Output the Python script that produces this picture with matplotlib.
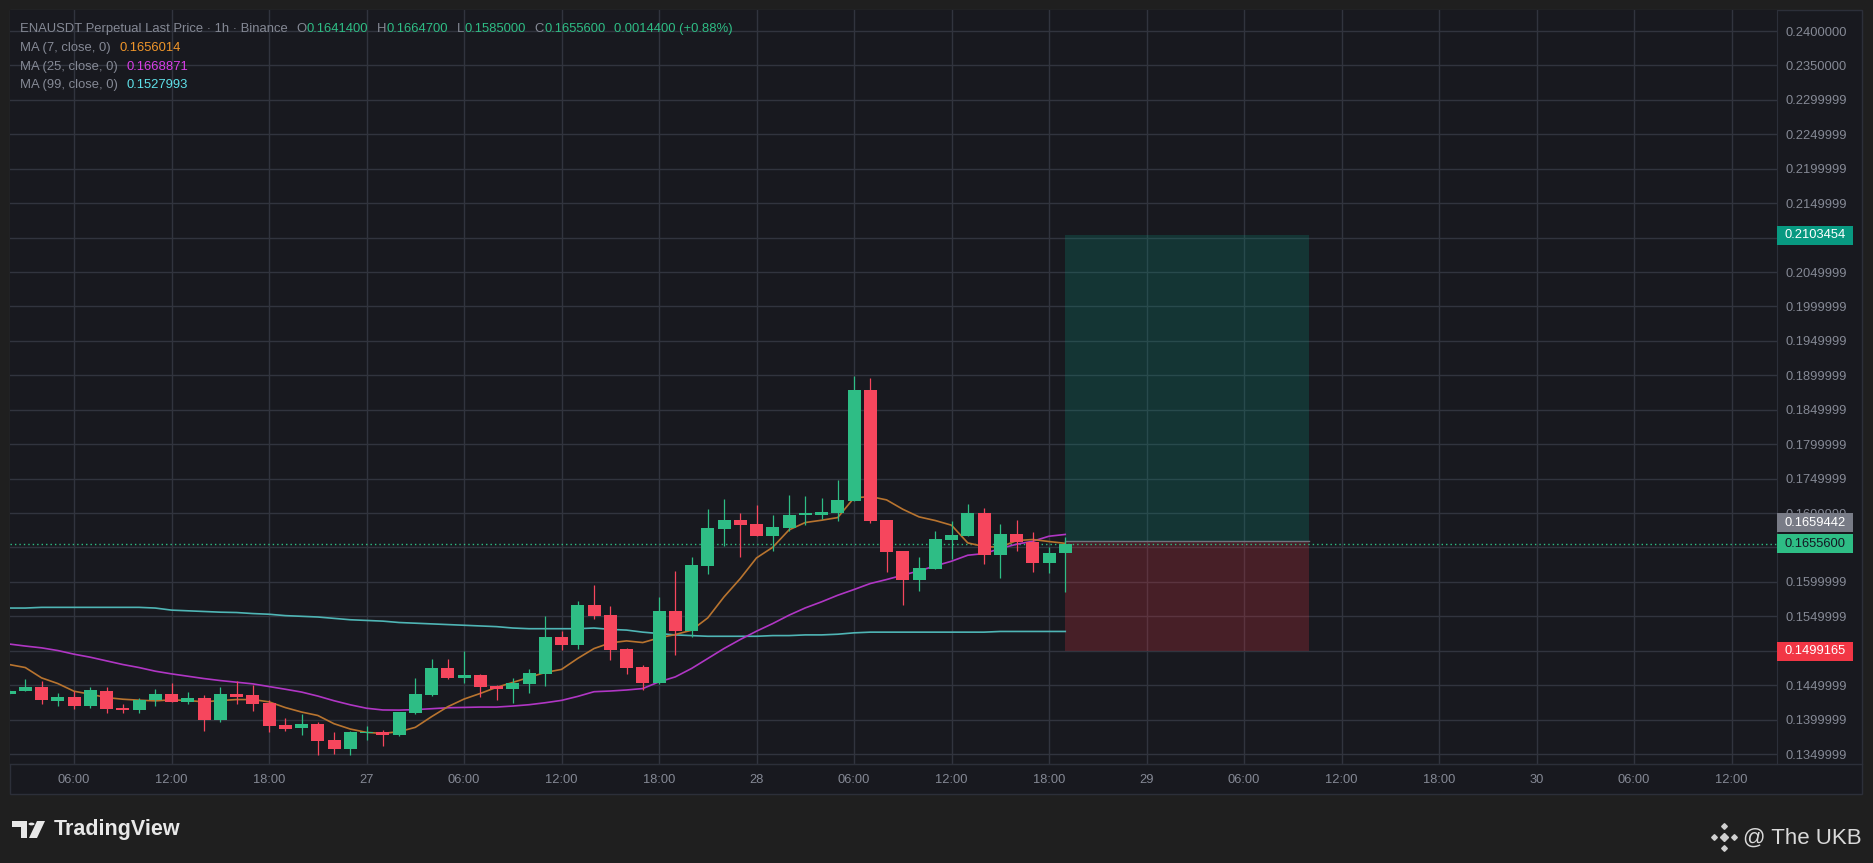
import numpy as np
import matplotlib
matplotlib.use("Agg")
import matplotlib.pyplot as plt
import matplotlib.transforms as mtransforms
from matplotlib.patches import Rectangle, Polygon, Circle
from matplotlib.lines import Line2D

# ENAUSDT perpetual, 1h candles; hour index counted from 26th 00:00
hours = np.arange(2, 68)
opens = [0.14369, 0.14412, 0.14480, 0.14277, 0.14335, 0.14195, 0.14422, 0.14175, 0.14137, 0.14282,
         0.14379, 0.14262, 0.14320, 0.14001, 0.14379, 0.14350, 0.14248, 0.13928, 0.13872, 0.13930,
         0.13698, 0.13572, 0.13800, 0.13814, 0.13776, 0.14095, 0.14351, 0.14743, 0.14598, 0.14642,
         0.14482, 0.14439, 0.14511, 0.14656, 0.15194, 0.15077, 0.15671, 0.15526, 0.15032, 0.14771,
         0.14538, 0.15584, 0.15293, 0.16237, 0.16774, 0.16905, 0.16847, 0.16673, 0.16789, 0.16978,
         0.16978, 0.17007, 0.17181, 0.18793, 0.16905, 0.16455, 0.16034, 0.16194, 0.16615, 0.16673,
         0.17007, 0.16397, 0.16702, 0.16586, 0.16281, 0.16414]
highs = [0.14440, 0.14596, 0.14567, 0.14388, 0.14412, 0.14480, 0.14480, 0.14233, 0.14320, 0.14451,
         0.14538, 0.14408, 0.14364, 0.14480, 0.14567, 0.14509, 0.14291, 0.14016, 0.14076, 0.13959,
         0.13814, 0.13829, 0.13901, 0.13843, 0.14110, 0.14598, 0.14874, 0.14874, 0.14990, 0.14656,
         0.14497, 0.14598, 0.14729, 0.15499, 0.15281, 0.15716, 0.15961, 0.15656, 0.15046, 0.14800,
         0.15787, 0.16165, 0.16368, 0.17065, 0.17210, 0.17007, 0.17123, 0.16978, 0.17268, 0.17254,
         0.17225, 0.17486, 0.18990, 0.18967, 0.16905, 0.16455, 0.16368, 0.16745, 0.16891, 0.17137,
         0.17079, 0.16847, 0.16905, 0.16731, 0.16513, 0.16647]
lows = [0.14350, 0.14410, 0.14224, 0.14195, 0.14151, 0.14175, 0.14093, 0.14093, 0.14093, 0.14195,
        0.14253, 0.14233, 0.13841, 0.13958, 0.14233, 0.14132, 0.13827, 0.13841, 0.13776, 0.13485,
        0.13500, 0.13485, 0.13703, 0.13616, 0.13761, 0.14085, 0.14337, 0.14584, 0.14526, 0.14322,
        0.14279, 0.14235, 0.14380, 0.14482, 0.15005, 0.15019, 0.15468, 0.14872, 0.14669, 0.14437,
        0.14520, 0.14935, 0.15197, 0.16121, 0.16528, 0.16368, 0.16660, 0.16455, 0.16745, 0.16832,
        0.16920, 0.16891, 0.17181, 0.16862, 0.16150, 0.15671, 0.15874, 0.16194, 0.16339, 0.16673,
        0.16266, 0.16063, 0.16455, 0.16150, 0.16136, 0.15850]
closes = [0.14422, 0.14480, 0.14282, 0.14335, 0.14195, 0.14437, 0.14161, 0.14137, 0.14291, 0.14379,
          0.14262, 0.14320, 0.14001, 0.14379, 0.14335, 0.14233, 0.13914, 0.13870, 0.13930, 0.13688,
          0.13572, 0.13814, 0.13814, 0.13776, 0.14105, 0.14366, 0.14743, 0.14598, 0.14642, 0.14468,
          0.14439, 0.14526, 0.14671, 0.15194, 0.15077, 0.15658, 0.15511, 0.15017, 0.14756, 0.14538,
          0.15584, 0.15293, 0.16252, 0.16789, 0.16905, 0.16832, 0.16673, 0.16803, 0.16978, 0.16992,
          0.17021, 0.17195, 0.18793, 0.16891, 0.16440, 0.16034, 0.16208, 0.16629, 0.16687, 0.17007,
          0.16397, 0.16702, 0.16586, 0.16281, 0.16426, 0.16556]

ma7 = [0.14800, 0.14756, 0.14606, 0.14524, 0.14412, 0.14369, 0.14320, 0.14296, 0.14282, 0.14272,
       0.14287, 0.14277, 0.14258, 0.14277, 0.14291, 0.14291, 0.14258, 0.14175, 0.14110, 0.14060,
       0.13940, 0.13863, 0.13814, 0.13800, 0.13824, 0.13887, 0.14042, 0.14187, 0.14298, 0.14380,
       0.14468, 0.14540, 0.14613, 0.14685, 0.14729, 0.14889, 0.15032, 0.15114, 0.15143, 0.15119,
       0.15187, 0.15235, 0.15298, 0.15477, 0.15782, 0.16048, 0.16348, 0.16503, 0.16755, 0.16862,
       0.16895, 0.16934, 0.17220, 0.17239, 0.17191, 0.17055, 0.16944, 0.16891, 0.16823, 0.16566,
       0.16513, 0.16503, 0.16600, 0.16615, 0.16586, 0.16560]
ma25 = [0.15098, 0.15068, 0.15042, 0.15003, 0.14950, 0.14906, 0.14853, 0.14800, 0.14756, 0.14703,
        0.14664, 0.14630, 0.14596, 0.14567, 0.14543, 0.14519, 0.14480, 0.14441, 0.14400, 0.14342,
        0.14274, 0.14215, 0.14165, 0.14140, 0.14138, 0.14145, 0.14158, 0.14172, 0.14177, 0.14182,
        0.14182, 0.14197, 0.14216, 0.14245, 0.14279, 0.14337, 0.14405, 0.14415, 0.14430, 0.14451,
        0.14548, 0.14620, 0.14742, 0.14887, 0.15032, 0.15163, 0.15284, 0.15395, 0.15516, 0.15622,
        0.15710, 0.15806, 0.15889, 0.15976, 0.16034, 0.16097, 0.16160, 0.16232, 0.16300, 0.16387,
        0.16411, 0.16484, 0.16547, 0.16590, 0.16663, 0.16689]
ma99 = [0.1562, 0.1562, 0.1563, 0.1563, 0.1563, 0.1563, 0.1563, 0.1563, 0.1563, 0.1562,
        0.1559, 0.1558, 0.1557, 0.1556, 0.15555, 0.1554, 0.1553, 0.1551, 0.1550, 0.1549,
        0.1547, 0.1545, 0.1544, 0.1543, 0.1541, 0.1540, 0.1539, 0.1538, 0.1537, 0.1536,
        0.1535, 0.1533, 0.1532, 0.1532, 0.1532, 0.1532, 0.1533, 0.1531, 0.1530, 0.1527,
        0.1525, 0.1523, 0.1522, 0.1521, 0.1521, 0.1521, 0.1521, 0.1522, 0.1522, 0.1523,
        0.1523, 0.1524, 0.1526, 0.1527, 0.1527, 0.1527, 0.1527, 0.1527, 0.1527, 0.1527,
        0.1527, 0.1528, 0.1528, 0.1528, 0.1528, 0.1528]

# long position tool
pos_start, pos_end = 67, 82
entry, take_profit, stop_loss = 0.1659442, 0.2103454, 0.1499165
last_close = 0.16556

xtick_hours = [6, 12, 18, 24, 30, 36, 42, 48, 54, 60, 66, 72, 78, 84, 90, 96, 102, 108]
xtick_labels = ["06:00", "12:00", "18:00", "27", "06:00", "12:00", "18:00", "28", "06:00",
                "12:00", "18:00", "29", "06:00", "12:00", "18:00", "30", "06:00", "12:00"]
ytick_vals = [0.135, 0.14, 0.145, 0.15, 0.155, 0.16, 0.165, 0.17, 0.175, 0.18, 0.185,
              0.19, 0.195, 0.20, 0.205, 0.21, 0.215, 0.22, 0.225, 0.23, 0.235, 0.24]
# labels hidden under the price tags are left empty
ytick_labels = ["0.1349999", "0.1399999", "0.1449999", "", "0.1549999", "0.1599999",
                "", "0.1699999", "0.1749999", "0.1799999", "0.1849999", "0.1899999",
                "0.1949999", "0.1999999", "0.2049999", "", "0.2149999", "0.2199999",
                "0.2249999", "0.2299999", "0.2350000", "0.2400000"]

# colours
OUTER = "#1f1f1f"
BG = "#18191f"
GRID = "#31343e"
BORDER = "#2c2f39"
TXT = "#858995"
GREEN = "#2ebd85"
RED = "#f6465d"
FONT = "Liberation Sans"

W, H, DPI = 1874, 863, 100
fx = lambda px: px / W
fy = lambda py: 1 - py / H

fig = plt.figure(figsize=(W / DPI, H / DPI), dpi=DPI, facecolor=OUTER)
fig.patches.append(Rectangle((fx(10), fy(794)), 1852 / W, 784 / H, transform=fig.transFigure,
                             facecolor=BG, edgecolor=BORDER, lw=1, zorder=-5))

ax = fig.add_axes([fx(10), fy(764), 1767 / W, 754 / H])
ax.set_facecolor(BG)
ax.set_xlim(2.06, 110.8)
ax.set_ylim(0.133552, 0.24305)
for s in ["top", "left"]:
    ax.spines[s].set_visible(False)
for s in ["right", "bottom"]:
    ax.spines[s].set_color(BORDER)

ax.set_xticks(xtick_hours)
ax.set_xticklabels(xtick_labels)
ax.set_yticks(ytick_vals)
ax.set_yticklabels(ytick_labels)
ax.yaxis.tick_right()
ax.tick_params(axis="both", length=0, colors=TXT, labelsize=9.3)
ax.tick_params(axis="y", pad=5.8)
ax.tick_params(axis="x", pad=7.5)
for lab in ax.get_xticklabels() + ax.get_yticklabels():
    lab.set_family(FONT)
ax.grid(True, color=GRID, lw=1)
ax.set_axisbelow(True)

# position box
ax.add_patch(Rectangle((pos_start, entry), pos_end - pos_start, take_profit - entry,
                       facecolor="#089981", alpha=0.22, lw=0, zorder=1))
ax.add_patch(Rectangle((pos_start, stop_loss), pos_end - pos_start, entry - stop_loss,
                       facecolor="#f23645", alpha=0.22, lw=0, zorder=1))
ax.plot([pos_start, pos_end], [entry, entry], color="#6f727c", lw=1, zorder=1.5)

# last price line
ax.axhline(last_close, color=GREEN, lw=1, ls=(0, (1, 2.2)), zorder=1.6)

# moving averages
ax.plot(hours, ma99, color="#4fb5b5", lw=1.2, zorder=2)
ax.plot(hours, ma25, color="#b036c4", lw=1.2, zorder=2)
ax.plot(hours, ma7, color="#b8742f", lw=1.2, zorder=2)

# candles
o, c = np.array(opens), np.array(closes)
cols = np.where(c >= o, GREEN, RED)
ax.vlines(hours, lows, highs, colors=cols, lw=0.9, zorder=3)
ax.bar(hours, np.maximum(np.abs(c - o), 0.00016), bottom=np.minimum(o, c), width=0.8,
       color=cols, lw=0, zorder=3.1)

# price tags on the axis
tag_tr = mtransforms.blended_transform_factory(fig.transFigure, ax.transData)
px_per_unit = 754 / (0.24305 - 0.133552)


def tag(val, text, bg, fg, shift_px=0):
    yc = val + shift_px / px_per_unit
    h = 19 / px_per_unit
    ax.add_patch(Rectangle((fx(1777), yc - h / 2), 76 / W, h, transform=tag_tr,
                           facecolor=bg, lw=0, clip_on=False, zorder=5))
    ax.text(fx(1785), yc, text, transform=tag_tr, color=fg, fontsize=9.3, family=FONT,
            va="center", ha="left", clip_on=False, zorder=6)


tag(take_profit, "0.2103454", "#089981", "white")
tag(entry, "0.1659442", "#787b86", "white", shift_px=18)
tag(last_close, "0.1655600", GREEN, "#131722")
tag(stop_loss, "0.1499165", "#f23645", "white")

# separator below time axis across price column
fig.add_artist(Line2D([fx(10), fx(1862)], [fy(764), fy(764)], color=BORDER, lw=1))

# header legend
renderer = fig.canvas.get_renderer()


def put(x, y, s, color, size=9.4, weight="normal"):
    t = fig.text(fx(x), fy(y), s, color=color, fontsize=size, family=FONT,
                 va="center", ha="left", weight=weight)
    return x + t.get_window_extent(renderer).width


x = put(20, 29, "ENAUSDT Perpetual Last Price \u00b7 1h \u00b7 Binance", TXT)
for letter, val in [("O", "0.1641400"), ("H", "0.1664700"), ("L", "0.1585000"), ("C", "0.1655600")]:
    x = put(x + 9, 29, letter, TXT)
    x = put(x, 29, val, GREEN)
put(x + 9, 29, "0.0014400 (+0.88%)", GREEN)

for y, name, val, col in [(48, "MA (7, close, 0)", "0.1656014", "#f0962a"),
                          (67, "MA (25, close, 0)", "0.1668871", "#d93ee8"),
                          (85, "MA (99, close, 0)", "0.1527993", "#5ee0e8")]:
    x = put(20, y, name, TXT)
    put(x + 9, y, val, col)

# footer: TradingView logo
logo = "#e8e8e8"
px = lambda pts: [(fx(a), fy(b)) for a, b in pts]
fig.patches.append(Polygon(px([(12, 821), (27, 821), (27, 838), (21, 838), (21, 827), (12, 827)]),
                           closed=True, transform=fig.transFigure, facecolor=logo, lw=0))
fig.patches.append(Circle((fx(31.5), fy(824)), 3 / W, transform=fig.transFigure,
                          facecolor=logo, lw=0))
fig.patches.append(Polygon(px([(37, 821), (45, 821), (37, 838), (29, 838)]), closed=True,
                           transform=fig.transFigure, facecolor=logo, lw=0))
put(54, 829, "TradingView", logo, size=15.5, weight="bold")

# footer: author
for (a, b, ms) in [(1724, 837, 6), (1724, 826, 4), (1724, 848, 4), (1714, 837, 4), (1734, 837, 4)]:
    fig.add_artist(Line2D([fx(a)], [fy(b)], marker="D", ms=ms * 0.72, color="#d0d0d0", lw=0))
put(1743, 838, "@ The UKB", "#d9d9d9", size=16)

fig.savefig("out.png", dpi=DPI, facecolor=OUTER)
